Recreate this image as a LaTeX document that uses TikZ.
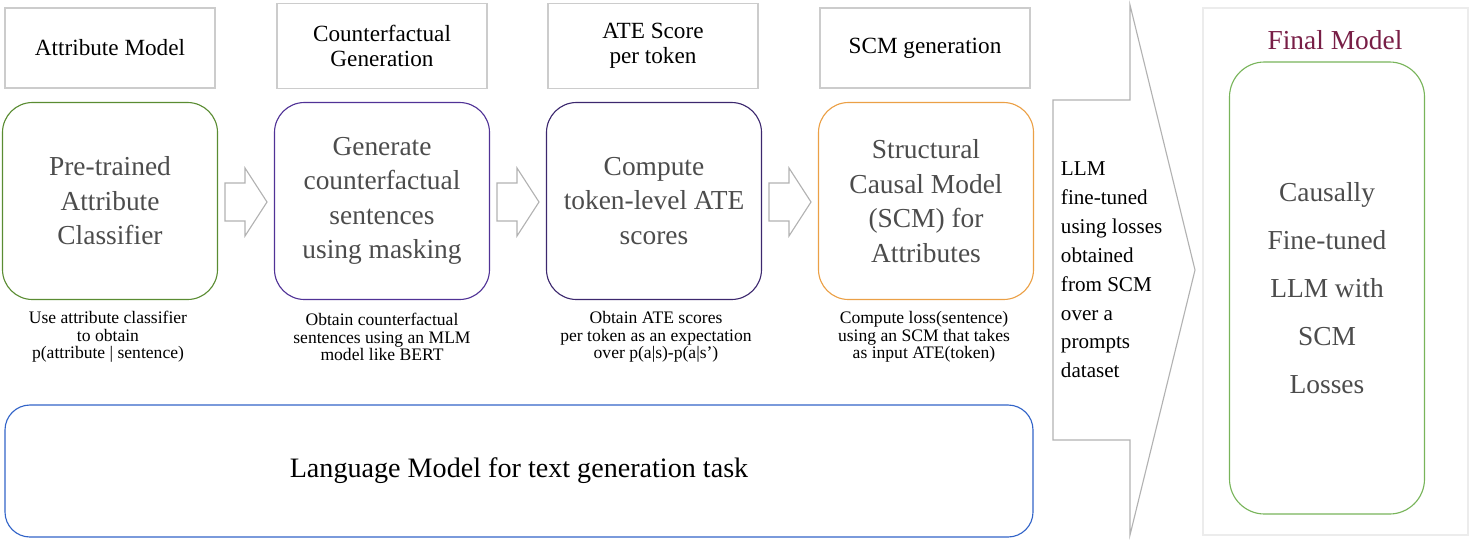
\documentclass[tikz,border=0pt]{standalone}
\usepackage{fontspec}
\setmainfont{Liberation Serif}
\usetikzlibrary{positioning}
\definecolor{stepgreen}{RGB}{90,140,50}
\definecolor{steppurple}{RGB}{80,50,150}
\definecolor{stepdark}{RGB}{60,40,110}
\definecolor{steporange}{RGB}{235,160,70}
\definecolor{lmblue}{RGB}{50,100,200}
\definecolor{finalgreen}{RGB}{120,180,90}
\definecolor{maroon}{RGB}{120,30,70}
\begin{document}
\begin{tikzpicture}[x=0.025cm,y=-0.025cm,
			head node/.style={draw=gray!40,thick,minimum width=210*0.025cm,minimum height=80*0.025cm,align=center,font=\fontsize{16.5}{18}\selectfont},
			step node/.style={draw,thick,rounded corners=30*0.025cm,minimum width=215*0.025cm,minimum height=197*0.025cm,align=center,text=black!70,font=\fontsize{19.5}{24.5}\selectfont},
			note node/.style={align=center,font=\fontsize{12.5}{12.5}\selectfont},
			hollow arrow/.style={draw=gray!60,thick}
			]

			\useasboundingbox (0,0) rectangle (1471,541);

			% headers
			\node[head node] (h1) at (110,48) {Attribute Model};
			\node[head node,minimum height=85*0.025cm] (h2) at (382,46) {Counterfactual\\Generation};
			\node[head node,minimum height=85*0.025cm] (h3) at (653,46) {ATE Score\\per token};
			\node[head node] (h4) at (925,48) {SCM generation};

			% steps
			\node[step node,draw=stepgreen] (s1) at (110,201) {Pre-trained\\Attribute\\Classifier};
			\node[step node,draw=steppurple] (s2) at (382,201) {Generate\\counterfactual\\sentences\\using masking};
			\node[step node,draw=stepdark] (s3) at (654,201) {Compute\\token-level ATE\\scores};
			\node[step node,draw=steporange] (s4) at (926,201) {Structural\\Causal Model\\(SCM) for\\Attributes};

			% notes
			\node[note node] (n1) at (108,337) {Use attribute classifier\\to obtain\\p(attribute | sentence)};
			\node[note node] (n2) at (382,337) {Obtain counterfactual\\sentences using an MLM\\model like BERT};
			\node[note node] (n3) at (656,337) {Obtain ATE scores\\per token as an expectation\\over p(a|s)-p(a|s')};
			\node[note node] (n4) at (924,337) {Compute loss(sentence)\\using an SCM that takes\\as input ATE(token)};

			% arrows between steps
			\foreach \x in {225,497,769} {
				\draw[hollow arrow] (\x,183) -- ++(20,0) -- ++(0,-15) -- ++(22,34) -- ++(-22,34) -- ++(0,-15) -- ++(-20,0) -- cycle;
			}

			% language model
			\node[draw=lmblue,thick,rounded corners=25*0.025cm,minimum width=1028*0.025cm,minimum height=132*0.025cm,font=\fontsize{20}{22}\selectfont] (lm) at (519,471) {Language Model for text generation task};

			% big arrow
			\draw[draw=gray!60,thick] (1053,100) -- (1130,100) -- (1130,5) -- (1195,270) -- (1130,535) -- (1130,440) -- (1053,440) -- cycle;
			\node[align=left,anchor=west,font=\fontsize{15}{20.5}\selectfont] (ft) at (1056,270) {LLM\\fine-tuned\\using losses\\obtained\\from SCM\\over a\\prompts\\dataset};

			% final model
			\draw[draw=gray!15,thick] (1203,8) rectangle (1468,535);
			\node[text=maroon,font=\fontsize{19.5}{21}\selectfont] (fm) at (1335,40) {Final Model};
			\node[draw=finalgreen,thick,rounded corners=35*0.025cm,minimum width=195*0.025cm,minimum height=452*0.025cm,align=center,text=black!70,font=\fontsize{19.5}{34}\selectfont] (fl) at (1327,288) {Causally\\Fine-tuned\\LLM with\\SCM\\Losses};
		\end{tikzpicture}
\end{document}
